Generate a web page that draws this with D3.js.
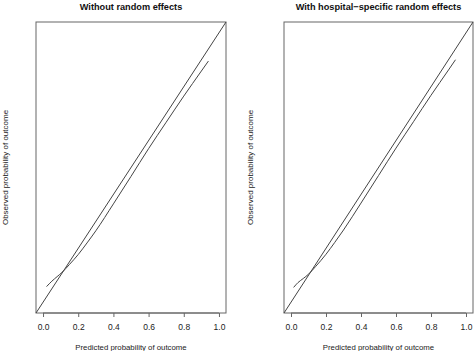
<!DOCTYPE html>
<html><head><meta charset="utf-8">
<script src="https://cdn.jsdelivr.net/npm/d3@7"></script>
<style>body{margin:0;background:#fff}svg{display:block}</style>
</head><body>
<script>
const titles = ["Without random effects", "With hospital\u2212specific random effects"];
const xLabel = "Predicted probability of outcome";
const yLabel = "Observed probability of outcome";
const xTicks = [0.0, 0.2, 0.4, 0.6, 0.8, 1.0];
// calibration curve, panel 1 (without random effects)
const pred1 = [0.02, 0.05, 0.08, 0.11, 0.15, 0.2, 0.25, 0.3, 0.4, 0.5, 0.6, 0.7, 0.8, 0.9, 0.94];
const obs1  = [0.058, 0.078, 0.095, 0.112, 0.14, 0.177, 0.22, 0.265, 0.365, 0.467, 0.57, 0.668, 0.765, 0.858, 0.895];
// calibration curve, panel 2 (with hospital-specific random effects)
const pred2 = [0.015, 0.04, 0.07, 0.1, 0.14, 0.2, 0.25, 0.3, 0.4, 0.5, 0.6, 0.7, 0.8, 0.9, 0.94];
const obs2  = [0.055, 0.073, 0.088, 0.104, 0.132, 0.178, 0.222, 0.268, 0.368, 0.47, 0.572, 0.67, 0.768, 0.862, 0.9];

(function () {
const W = 474, H = 351;
const svg = d3.select("body").append("svg").attr("width", W).attr("height", H);
const font = "'Liberation Sans', Arial, Helvetica, sans-serif";
const panels = [
  {x0: 36, x1: 226, pred: pred1, obs: obs1, title: titles[0], ylx: 5},
  {x0: 284, x1: 473, pred: pred2, obs: obs2, title: titles[1], ylx: 250}
];
const pTop = 22, pBottom = 313;
panels.forEach(p => {
  const x = d3.scaleLinear().domain([-0.04, 1.04]).range([p.x0, p.x1]);
  const y = d3.scaleLinear().domain([-0.04, 1.04]).range([pBottom, pTop]);
  const g = svg.append("g");
  g.append("rect").attr("x", p.x0).attr("y", pTop).attr("width", p.x1 - p.x0).attr("height", pBottom - pTop)
    .attr("fill", "none").attr("stroke", "#666").attr("stroke-width", 1);
  const line = d3.line().x(d => x(d[0])).y(d => y(d[1]));
  g.append("path").attr("d", line([[-0.04, -0.04], [1.04, 1.04]]))
    .attr("fill", "none").attr("stroke", "#444").attr("stroke-width", 1);
  const pts = p.pred.map((v, i) => [v, p.obs[i]]);
  g.append("path").attr("d", d3.line().x(d => x(d[0])).y(d => y(d[1])).curve(d3.curveMonotoneX)(pts))
    .attr("fill", "none").attr("stroke", "#444").attr("stroke-width", 1);
  const ax = g.append("g").attr("transform", `translate(0,${pBottom})`)
    .call(d3.axisBottom(x).tickValues(xTicks).tickFormat(d3.format(".1f")).tickSize(4).tickPadding(7));
  ax.select(".domain").attr("stroke", "#666").attr("d", `M${x(0)},0H${x(1)}`);
  ax.selectAll(".tick line").attr("stroke", "#666");
  ax.selectAll("text").attr("font-family", font).attr("font-size", 8.5).attr("fill", "#222");
  g.append("text").attr("x", x(0.5)).attr("y", 350).attr("text-anchor", "middle")
    .attr("font-family", font).attr("font-size", 7.8).attr("fill", "#222").text(xLabel);
  g.append("text").attr("transform", `translate(${p.ylx + 3},${(pTop + pBottom) / 2}) rotate(-90)`)
    .attr("text-anchor", "middle").attr("font-family", font).attr("font-size", 8).attr("fill", "#222").text(yLabel);
  g.append("text").attr("x", (p.x0 + p.x1) / 2).attr("y", 10).attr("text-anchor", "middle")
    .attr("font-family", font).attr("font-weight", "bold").attr("font-size", 9.2).attr("fill", "#111").text(p.title);
});
})();
</script>
</body></html>
